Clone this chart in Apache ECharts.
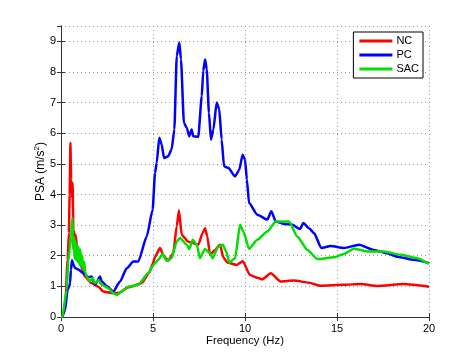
<!DOCTYPE html>
<html><head><meta charset="utf-8">
<script src="https://cdn.jsdelivr.net/npm/echarts@6/dist/echarts.min.js"></script>
<style>html,body{margin:0;padding:0;background:#fff}#c{width:474px;height:357px}</style>
</head><body><div id="c"></div>
<script>
const seriesNames = ['NC', 'PC', 'SAC'];
const xTicks = [0, 5, 10, 15, 20];
const yTicks = [0, 1, 2, 3, 4, 5, 6, 7, 8, 9];

const NC = [[0,0],[0.04,0],[0.22,0.23],[0.36,1.87],[0.43,2.74],[0.47,4.0],[0.51,5.69],[0.55,4.5],[0.58,3.94],[0.63,4.38],[0.67,2.85],[0.76,2.63],[0.80,2.68],[0.91,1.97],[1.03,1.76],[1.3,1.32],[1.67,1.10],[2.03,0.99],[2.3,0.83],[2.75,0.78],[3.11,0.78],[3.66,0.97],[4.38,1.10],[4.8,1.45],[5.0,1.76],[5.11,1.97],[5.38,2.25],[5.6,1.97],[5.83,1.84],[6.1,2.08],[6.29,2.96],[6.41,3.48],[6.56,2.68],[6.92,2.46],[7.46,2.36],[7.7,2.74],[7.83,2.9],[7.95,2.63],[8.1,2.03],[8.37,2.19],[8.64,2.36],[8.82,1.95],[9.04,1.78],[9.55,1.7],[9.88,1.82],[10.27,1.37],[10.72,1.27],[10.94,1.23],[11.4,1.43],[11.94,1.16],[12.66,1.19],[13.48,1.12],[14.11,1.02],[15.38,1.05],[16.29,1.08],[17.19,1.01],[18.64,1.08],[20,0.99]];

const PC = [[0,0],[0.04,0],[0.22,0.23],[0.36,0.9],[0.45,1.0],[0.49,1.1],[0.54,1.54],[0.6,1.85],[0.67,1.72],[0.76,1.6],[0.94,1.55],[1.21,1.43],[1.49,1.30],[1.67,1.32],[1.85,1.05],[2.12,1.32],[2.21,1.16],[2.5,1.0],[2.84,0.83],[3.2,1.15],[3.57,1.59],[3.93,1.81],[4.2,1.81],[4.66,2.63],[4.98,3.5],[5.11,4.7],[5.2,5.03],[5.34,5.85],[5.47,5.63],[5.6,5.19],[5.83,5.25],[6.01,5.47],[6.16,6.12],[6.29,8.52],[6.43,8.96],[6.52,8.41],[6.68,6.34],[6.83,6.18],[6.97,5.9],[7.1,6.12],[7.19,5.9],[7.46,5.88],[7.65,7.21],[7.73,8.03],[7.83,8.41],[7.92,8.09],[8.04,6.67],[8.15,5.79],[8.28,6.12],[8.46,7.0],[8.6,6.78],[8.73,5.79],[8.86,4.92],[9.09,4.87],[9.46,4.59],[9.69,4.81],[9.87,5.3],[10.0,5.14],[10.1,4.5],[10.22,3.72],[10.67,3.34],[11.21,3.18],[11.43,3.45],[11.67,3.12],[12.12,3.04],[12.57,3.01],[12.99,2.87],[13.17,3.07],[13.48,2.9],[13.75,2.74],[14.15,2.25],[14.66,2.32],[15.38,2.25],[16.2,2.36],[17.0,2.19],[17.73,2.08],[18.28,1.97],[19.18,1.87],[20,1.76]];

const SAC = [[0,0],[0.07,0],[0.31,0.88],[0.4,1.87],[0.47,2.19],[0.54,2.63],[0.62,3.23],[0.66,2.2],[0.70,2.6],[0.74,1.9],[0.78,2.5],[0.82,1.85],[0.86,2.35],[0.90,1.8],[0.95,2.3],[1.0,1.7],[1.05,2.2],[1.1,1.65],[1.15,2.0],[1.2,1.55],[1.26,1.8],[1.32,1.45],[1.4,1.32],[1.58,1.16],[1.7,1.27],[1.85,1.10],[2.03,1.21],[2.21,1.05],[2.57,0.94],[2.84,0.78],[3.03,0.72],[3.3,0.83],[3.66,0.99],[4.2,1.05],[4.74,1.43],[5.02,1.70],[5.29,1.87],[5.52,2.06],[5.74,1.84],[6.01,1.92],[6.29,2.46],[6.47,2.58],[6.83,2.36],[6.97,2.22],[7.16,2.52],[7.38,2.36],[7.55,1.92],[7.83,2.22],[8.1,2.08],[8.24,1.92],[8.55,2.3],[8.79,2.36],[8.97,2.14],[9.15,1.78],[9.46,1.92],[9.73,3.01],[9.91,2.79],[10.22,2.23],[10.67,2.52],[11.21,2.79],[11.67,3.12],[12.39,3.12],[12.84,2.63],[13.39,2.19],[13.93,1.89],[14.84,1.95],[15.38,2.06],[15.92,2.23],[16.65,2.14],[17.55,2.14],[18.46,2.03],[19.36,1.92],[20,1.73]];

const colors = ['#ff0000', '#0000ff', '#00e000'];
const font = '"Liberation Sans", Arial, Helvetica, sans-serif';
const chart = echarts.init(document.getElementById('c'), null, {renderer: 'canvas'});
const axisCommonX = {type: 'value', min: 0, max: 20, interval: 5};
const axisCommonY = {type: 'value', min: 0, max: 9.5, interval: 1};
const lineSeries = [NC, PC, SAC].map((d, i) => ({
  name: seriesNames[i], type: 'line', data: d, xAxisIndex: 0, yAxisIndex: 0,
  showSymbol: false, symbol: 'none', smooth: 0.2, smoothMonotone: 'x',
  lineStyle: {color: colors[i], width: 2.5}, itemStyle: {color: colors[i]}, z: 3 + i
}));
chart.setOption({
  animation: false,
  backgroundColor: '#fff',
  textStyle: {fontFamily: font},
  grid: {left: 61, right: 45, top: 26, bottom: 40, containLabel: false},
  legend: {
    data: seriesNames, orient: 'vertical', right: 51, top: 32,
    icon: 'rect', itemWidth: 33, itemHeight: 3, itemGap: 2,
    padding: [3, 4, 3, 6], backgroundColor: '#fff', borderColor: '#000', borderWidth: 1,
    textStyle: {fontSize: 11, color: '#000', fontFamily: font, lineHeight: 12, padding: [0, 0, 0, -1]}
  },
  xAxis: [
    Object.assign({}, axisCommonX, {
      position: 'bottom', name: 'Frequency (Hz)', nameLocation: 'middle', nameGap: 18, nameMoveOverlap: false,
      nameTextStyle: {fontSize: 11.3, color: '#000', fontFamily: font},
      axisLine: {show: true, lineStyle: {color: '#333', width: 1}},
      axisTick: {show: true, inside: true, length: 4, lineStyle: {color: '#333'}},
      axisLabel: {fontSize: 11, color: '#000', margin: 6, formatter: v => xTicks.includes(v) ? String(v) : ''},
      splitLine: {show: true, lineStyle: {color: '#999', type: [1, 3], width: 1}}
    }),
    Object.assign({}, axisCommonX, {
      position: 'top', axisLine: {show: true, lineStyle: {color: '#333', width: 1}},
      axisTick: {show: true, inside: true, length: 4, lineStyle: {color: '#333'}},
      axisLabel: {show: false}, splitLine: {show: false}
    })
  ],
  yAxis: [
    Object.assign({}, axisCommonY, {
      position: 'left', name: 'PSA (m/s{s|2})', nameLocation: 'middle', nameGap: 13, nameRotate: 90, nameMoveOverlap: false,
      nameTextStyle: {fontSize: 12, color: '#000', fontFamily: font,
        rich: {s: {fontSize: 8, color: '#000', fontFamily: font, padding: [0, 0, 7, 0]}}},
      axisLine: {show: true, lineStyle: {color: '#333', width: 1}},
      axisTick: {show: true, inside: true, length: 4, lineStyle: {color: '#333'}},
      axisLabel: {fontSize: 11, color: '#000', margin: 5, showMaxLabel: false, formatter: v => yTicks.includes(v) ? String(v) : ''},
      splitLine: {show: true, lineStyle: {color: '#999', type: [1, 3], width: 1}}
    }),
    Object.assign({}, axisCommonY, {
      position: 'right', axisLine: {show: true, lineStyle: {color: '#333', width: 1}},
      axisTick: {show: true, inside: true, length: 4, lineStyle: {color: '#333'}},
      axisLabel: {show: false}, splitLine: {show: false}
    })
  ],
  series: lineSeries
});
</script></body></html>
